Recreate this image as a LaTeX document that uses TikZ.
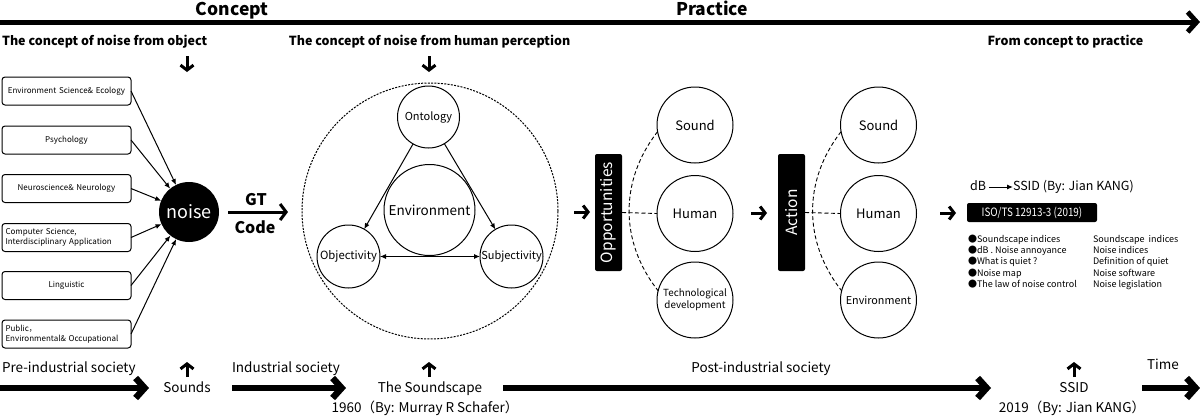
\documentclass[tikz,border=0pt]{standalone}
\usepackage{fontspec}
\setmainfont{Noto Sans CJK SC}
\usetikzlibrary{arrows.meta,calc}
\begin{document}
\begin{tikzpicture}[x=1pt,y=-1pt,
  every node/.style={inner sep=0pt,outer sep=0pt},
  titletext/.style={font=\bfseries\fontsize{17.5}{20}\selectfont},
  headtext/.style={font=\bfseries\fontsize{12.5}{15}\selectfont},
  tltext/.style={font=\fontsize{13.5}{15}\selectfont},
  discbox/.style={draw,line width=1pt,rounded corners=3pt,minimum width=129pt,minimum height=28pt,text width=122pt,font=\fontsize{8}{10}\selectfont},
  ring/.style={draw,circle,line width=1pt},
  thinarrow/.style={line width=1pt,-{Latex[length=6pt,width=5pt]}},
  toparrow/.style={line width=5pt,-{Straight Barb[length=9pt,width=20pt]}},
  timearrow/.style={line width=6.5pt,-{Straight Barb[length=9pt,width=20pt]}},
  chevron/.style={line width=3pt,-{Straight Barb[length=5pt,width=13pt]}},
  blackbar/.style={fill=black,rounded corners=2pt,minimum width=27pt,minimum height=117pt,text=white,font=\fontsize{15.5}{18}\selectfont},
  linkdash/.style={dash pattern=on 4pt off 2.5pt,line width=0.9pt},
  listtext/.style={font=\fontsize{9}{11}\selectfont,anchor=base west},
]
\useasboundingbox (0,0) rectangle (1200,416);
% ---------- top axis ----------
\coordinate (topL) at (0,22);
\coordinate (topR) at (1200,22);
\draw[toparrow] (topL) -- (topR);
\node[titletext,anchor=base] (concept) at (232,15) {Concept};
\node[titletext,anchor=base] (practice) at (712,15) {Practice};
\node[headtext,anchor=base west] (hobj) at (2,45) {The concept of noise from object};
\node[headtext,anchor=base] (hhum) at (429.5,45) {The concept of noise from human perception};
\node[headtext,anchor=base] (hprac) at (1065.5,45) {From concept to practice};
\coordinate (d1a) at (187,56); \coordinate (d1b) at (187,72);
\coordinate (d2a) at (429,56); \coordinate (d2b) at (429,72);
\draw[chevron] (d1a) -- (d1b);
\draw[chevron] (d2a) -- (d2b);
% ---------- disciplines ----------
\node[discbox,align=center] (b1) at (66.5,91) {Environment Science\& Ecology};
\node[discbox,align=center] (b2) at (66.5,140) {Psychology};
\node[discbox,align=center] (b3) at (66.5,188.5) {Neuroscience\& Neurology};
\node[discbox,align=left] (b4) at (66.5,237.5) {Computer Science,\\Interdisciplinary Application};
\node[discbox,align=center] (b5) at (66.5,285.5) {Linguistic};
\node[discbox,align=left] (b6) at (66.5,334) {Public，\\Environmental\& Occupational};
\node[circle,fill=black,minimum size=60pt,text=white,font=\fontsize{18}{20}\selectfont] (noise) at (189,212) {noise};
\foreach \b in {b1,b2,b3,b4,b5,b6} \draw[thinarrow] (\b.east) -- (noise);
% GT code
\coordinate (gtA) at (228,212); \coordinate (gtB) at (288,212);
\draw[line width=3pt,-{Straight Barb[length=6pt,width=16pt]}] (gtA) -- (gtB);
\node[font=\bfseries\fontsize{16}{18}\selectfont] (gt) at (256,200) {GT};
\node[font=\bfseries\fontsize{16}{18}\selectfont] (code) at (255,227) {Code};
% ---------- human perception ----------
\node[circle,draw,line width=1pt,dash pattern=on 2pt off 1.3pt,minimum size=256pt] (human) at (430,211) {};
\node[ring,minimum size=62pt,font=\fontsize{11}{13}\selectfont] (onto) at (428.5,117) {Ontology};
\node[ring,minimum size=91pt,font=\fontsize{13.5}{15}\selectfont] (env) at (429.5,210) {Environment};
\node[ring,minimum size=63pt,font=\fontsize{11.3}{13}\selectfont] (obj) at (348.5,256.5) {Objectivity};
\node[ring,minimum size=63pt,font=\fontsize{11}{13}\selectfont] (subj) at (511.5,256.5) {Subjectivity};
\draw[thinarrow] (onto) -- (obj);
\draw[thinarrow] (onto) -- (subj);
\draw[thinarrow,{Latex[length=6pt,width=5pt]}-{Latex[length=6pt,width=5pt]}] (obj) -- (subj);
\coordinate (r1a) at (574,212); \coordinate (r1b) at (590,212);
\draw[chevron] (r1a) -- (r1b);
% ---------- opportunities ----------
\node[blackbar] (opp) at (608.5,212.5) {\rotatebox{90}{Opportunities}};
\node[ring,minimum size=76pt,font=\fontsize{13}{15}\selectfont] (s1) at (695,125) {Sound};
\node[ring,minimum size=76pt,font=\fontsize{13}{15}\selectfont] (h1) at (695,213.5) {Human};
\node[ring,minimum size=76pt,font=\fontsize{9.8}{12}\selectfont,align=center] (t1) at (695,300) {Technological\\development};
\draw[linkdash] (s1.190) to[bend right=38] (t1.166);
\draw[linkdash] (opp.east) -- (h1.west);
\coordinate (r2a) at (751,213); \coordinate (r2b) at (767,213);
\draw[chevron] (r2a) -- (r2b);
% ---------- action ----------
\node[blackbar] (act) at (791.5,212.5) {\rotatebox{90}{Action}};
\node[ring,minimum size=76pt,font=\fontsize{13}{15}\selectfont] (s2) at (878.5,125) {Sound};
\node[ring,minimum size=76pt,font=\fontsize{13}{15}\selectfont] (h2) at (878.5,213.5) {Human};
\node[ring,minimum size=76pt,font=\fontsize{10.8}{13}\selectfont] (e2) at (878.5,300) {Environment};
\draw[linkdash] (s2.190) to[bend right=38] (e2.166);
\draw[linkdash] (act.east) -- (h2.west);
\coordinate (r3a) at (940,213); \coordinate (r3b) at (956,213);
\draw[chevron] (r3a) -- (r3b);
% ---------- SSID ----------
\node[font=\fontsize{12.5}{14}\selectfont,text height=9pt,text depth=2.5pt,anchor=west] (db) at (970,187) {dB};
\node[font=\fontsize{12.5}{14}\selectfont,text height=9pt,text depth=2.5pt,anchor=west] (ssid) at (1013,187) {SSID (By: Jian KANG)};
\draw[line width=1pt,-{Latex[length=6pt,width=5pt]},shorten <=3pt] (db.east) -- (ssid.west);
\node[fill=black,rounded corners=2pt,minimum width=130pt,minimum height=19pt,text=white,font=\fontsize{11.5}{13}\selectfont] (iso) at (1032,212.5) {\scalebox{0.86}[1]{ISO/TS 12913-3 (2019)}};
\node[listtext] (l1) at (968,242.5) {●Soundscape indices};
\node[listtext] (l2) at (968,253.7) {●dB . Noise annoyance};
\node[listtext] (l3) at (968,264.9) {●What is quiet ?};
\node[listtext] (l4) at (968,276.1) {●Noise map};
\node[listtext] (l5) at (968,287.3) {●The law of noise control};
\node[listtext] (m1) at (1093,242.5) {Soundscape\ \ indices};
\node[listtext] (m2) at (1093,253.7) {Noise indices};
\node[listtext] (m3) at (1093,264.9) {Definition of quiet};
\node[listtext] (m4) at (1093,276.1) {Noise software};
\node[listtext] (m5) at (1093,287.3) {Noise legislation};
% ---------- bottom timeline ----------
\coordinate (t1a) at (0,388); \coordinate (t1b) at (149,388);
\coordinate (t2a) at (232,388); \coordinate (t2b) at (346,388);
\coordinate (t3a) at (503,388); \coordinate (t3b) at (991,388);
\coordinate (t4a) at (1142,388); \coordinate (t4b) at (1200,388);
\draw[timearrow] (t1a) -- (t1b);
\draw[timearrow] (t2a) -- (t2b);
\draw[timearrow] (t3a) -- (t3b);
\draw[timearrow] (t4a) -- (t4b);
\node[tltext,anchor=base west] (pre) at (2,372.5) {Pre-industrial society};
\node[tltext,anchor=base west] (ind) at (232,372.5) {Industrial society};
\node[tltext,anchor=base] (post) at (761,372.5) {Post-industrial society};
\node[tltext,anchor=base] (time) at (1163,369) {Time};
\node[tltext,anchor=base] (sounds) at (187,392.5) {Sounds};
\node[tltext,anchor=base] (scape) at (430,392.5) {The Soundscape};
\node[tltext,anchor=base] (ssidb) at (1074,392.5) {SSID};
\node[tltext,anchor=base] (y1960) at (425,412.5) {1960（By: Murray R Schafer）};
\node[tltext,anchor=base] (y2019) at (1072,412.5) {2019（By: Jian KANG）};
\coordinate (u1a) at (187,377); \coordinate (u1b) at (187,362);
\coordinate (u2a) at (429,377); \coordinate (u2b) at (429,362);
\coordinate (u3a) at (1074,377); \coordinate (u3b) at (1074,362);
\draw[chevron] (u1a) -- (u1b);
\draw[chevron] (u2a) -- (u2b);
\draw[chevron] (u3a) -- (u3b);
\end{tikzpicture}
\end{document}
